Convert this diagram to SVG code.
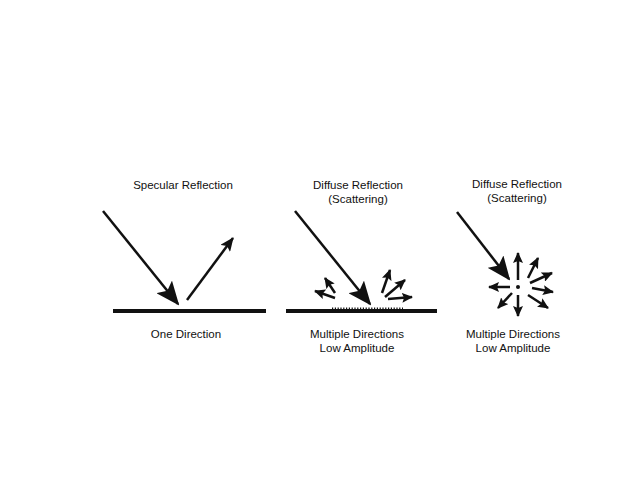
<svg xmlns="http://www.w3.org/2000/svg" width="638" height="478" viewBox="0 0 638 478">
<style>
text{font-family:"Liberation Sans",Arial,sans-serif;font-size:11.5px;fill:#111;text-anchor:middle}
.l{stroke:#111;stroke-width:2.5;fill:none}
.s{stroke:#111;stroke-width:2.5;fill:none}
.surf{stroke:#111;stroke-width:4}
</style>
<defs>
<marker id="big" markerUnits="userSpaceOnUse" markerWidth="24" markerHeight="20" refX="22" refY="10" orient="auto" viewBox="0 0 24 20"><path d="M0,0 L24,10 L0,20 L5,10 Z" fill="#111"/></marker>
<marker id="med" markerUnits="userSpaceOnUse" markerWidth="14" markerHeight="12" refX="13" refY="6" orient="auto" viewBox="0 0 14 12"><path d="M0,0 L14,6 L0,12 L3,6 Z" fill="#111"/></marker>
<marker id="sm" markerUnits="userSpaceOnUse" markerWidth="11" markerHeight="10" refX="10" refY="5" orient="auto" viewBox="0 0 11 10"><path d="M0,0 L11,5 L0,10 L2,5 Z" fill="#111"/></marker>
</defs>
<rect width="638" height="478" fill="#fff"/>
<g id="specular">
<text x="183" y="189">Specular Reflection</text>
<line class="surf" x1="113" y1="311" x2="266" y2="311"/>
<text x="186" y="338">One Direction</text>
</g>
<g id="diffuse1">
<text x="358" y="189">Diffuse Reflection</text>
<text x="358" y="203">(Scattering)</text>
<line class="surf" x1="286" y1="311" x2="437" y2="311"/>
<path d="M332,309 h71" stroke="#111" stroke-width="3" stroke-dasharray="1.2,1.6"/>
<text x="357" y="338">Multiple Directions</text>
<text x="357" y="352">Low Amplitude</text>
</g>
<g id="diffuse2">
<text x="517" y="188">Diffuse Reflection</text>
<text x="517" y="202">(Scattering)</text>
<circle cx="518" cy="287" r="2" fill="#111"/>
<text x="513" y="338">Multiple Directions</text>
<text x="513" y="352">Low Amplitude</text>
</g>
<g id="connectors">
<line class="l" x1="103" y1="211" x2="178" y2="304" marker-end="url(#big)"/>
<line class="l" x1="187" y1="300" x2="233" y2="238" marker-end="url(#med)"/>
<line class="l" x1="295" y1="211" x2="370" y2="304" marker-end="url(#big)"/>
<line class="s" x1="335" y1="293" x2="325" y2="278" marker-end="url(#sm)"/>
<line class="s" x1="335" y1="298" x2="315" y2="291" marker-end="url(#sm)"/>
<line class="s" x1="382" y1="293" x2="390" y2="270" marker-end="url(#sm)"/>
<line class="s" x1="385" y1="297" x2="405" y2="280" marker-end="url(#sm)"/>
<line class="s" x1="388" y1="299" x2="412" y2="297" marker-end="url(#sm)"/>
<line class="l" x1="457" y1="212" x2="509" y2="279" marker-end="url(#big)"/>
<line class="s" x1="518" y1="280" x2="518" y2="253" marker-end="url(#sm)"/>
<line class="s" x1="528" y1="278" x2="538" y2="258" marker-end="url(#sm)"/>
<line class="s" x1="530" y1="283" x2="552" y2="273" marker-end="url(#sm)"/>
<line class="s" x1="532" y1="288" x2="553" y2="292" marker-end="url(#sm)"/>
<line class="s" x1="528" y1="295" x2="548" y2="308" marker-end="url(#sm)"/>
<line class="s" x1="518" y1="295" x2="518" y2="316" marker-end="url(#sm)"/>
<line class="s" x1="512" y1="293" x2="498" y2="308" marker-end="url(#sm)"/>
<line class="s" x1="510" y1="287" x2="489" y2="287" marker-end="url(#sm)"/>
</g>
</svg>
